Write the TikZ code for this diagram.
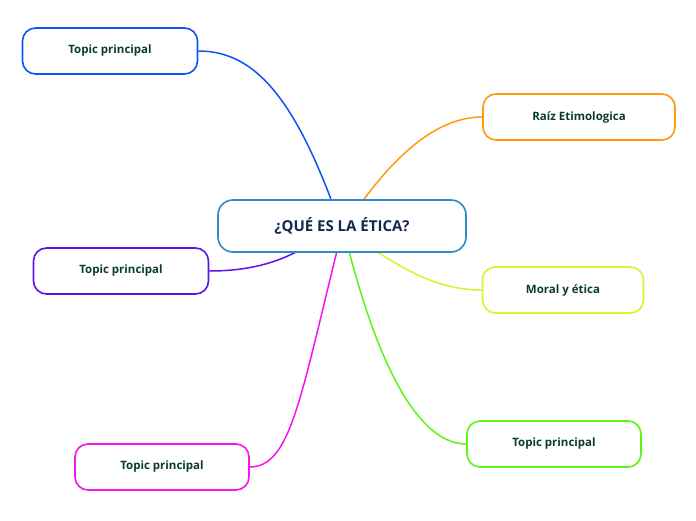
\documentclass[tikz,border=0pt]{standalone}
\usepackage{fontspec}
\setmainfont{Open Sans}
\definecolor{txt}{HTML}{0B3D2C}
\definecolor{ctxt}{HTML}{12294F}
\definecolor{cb}{HTML}{2E8BC9}
\definecolor{c1}{HTML}{0A55F5}
\definecolor{c2}{HTML}{FF9A0A}
\definecolor{c3}{HTML}{5A14E6}
\definecolor{c4}{HTML}{D4F52A}
\definecolor{c5}{HTML}{5AF514}
\definecolor{c6}{HTML}{F514F0}
\tikzset{topic/.style={draw=#1,line width=1.6pt,rounded corners=13pt,fill=white,minimum height=46pt,text=txt,font=\bfseries\fontsize{11.5}{13}\selectfont,inner sep=0pt},
link/.style={draw=#1,line width=1.5pt}}
\begin{document}
\begin{tikzpicture}[x=1pt,y=-1pt]
\useasboundingbox (0,0) rectangle (696,520);
\node[topic=c1,minimum width=175pt] (t1) at (110,51) {Topic principal};
\node[topic=c2,minimum width=192pt] (t2) at (579,117) {Raíz Etimologica};
\node[topic=c3,minimum width=175pt] (t3) at (121,271) {Topic principal};
\node[topic=c4,minimum width=161pt] (t4) at (563,290) {Moral y ética};
\node[topic=c5,minimum width=174pt] (t5) at (554,444) {Topic principal};
\node[topic=c6,minimum width=174pt] (t6) at (162,467) {Topic principal};
\coordinate (a1) at (332,202);
\coordinate (a2) at (362,202);
\coordinate (a3) at (298,251);
\coordinate (a4) at (376,251);
\coordinate (a5) at (349,251);
\coordinate (a6) at (337,251);
\draw[link=c1] (a1) .. controls (290,90) and (250,51) .. (t1.east);
\draw[link=c2] (a2) .. controls (400,150) and (440,117) .. (t2.west);
\draw[link=c3] (a3) .. controls (270,266) and (240,271) .. (t3.east);
\draw[link=c4] (a4) .. controls (420,280) and (450,290) .. (t4.west);
\draw[link=c5] (a5) .. controls (380,370) and (420,444) .. (t5.west);
\draw[link=c6] (a6) .. controls (300,400) and (290,467) .. (t6.east);
\node[draw=cb,line width=1.6pt,rounded corners=15pt,fill=white,minimum width=248pt,minimum height=52pt,text=ctxt,font=\bfseries\fontsize{15}{17}\selectfont] (c) at (342,226) {¿QUÉ ES LA ÉTICA?};
\end{tikzpicture}
\end{document}
